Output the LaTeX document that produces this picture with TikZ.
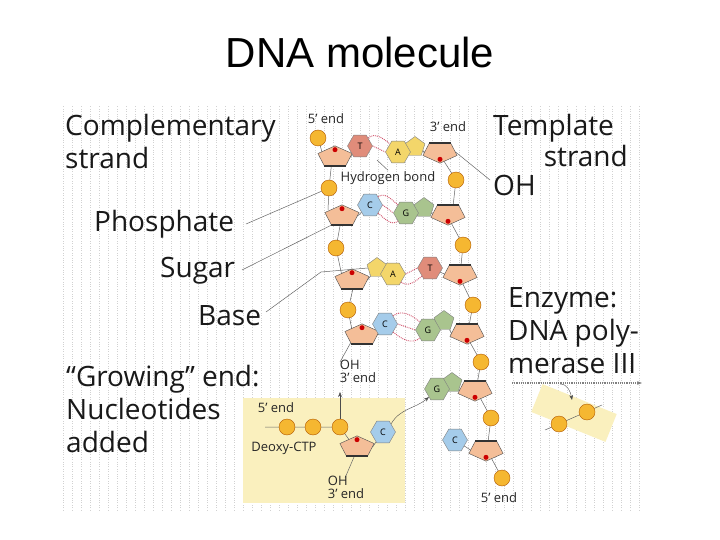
\documentclass[tikz,border=0pt]{standalone}
\usepackage{fontspec}
\setmainfont{Open Sans}
\newfontfamily\titlefont{Liberation Sans}
\usetikzlibrary{shapes.geometric,arrows.meta}
\definecolor{sug}{HTML}{F4BE98}
\definecolor{pho}{HTML}{F5B731}
\definecolor{bT}{HTML}{E08C7A}
\definecolor{bA}{HTML}{F3D66A}
\definecolor{bC}{HTML}{A5CCEA}
\definecolor{bG}{HTML}{A9C48E}
\definecolor{boxy}{HTML}{FAF0BE}
\definecolor{hb}{HTML}{D0506A}
\tikzset{
 phos/.style={circle,draw=orange!70!black,fill=pho,minimum size=16pt,inner sep=0pt,line width=0.4pt},
 sugU/.style={regular polygon,regular polygon sides=5,draw=black!70,fill=sug,minimum size=36pt,inner sep=0pt,transform shape,yscale=0.62},
 sugD/.style={sugU,shape border rotate=180},
 hexb/.style={regular polygon,regular polygon sides=6,draw=black!50,minimum size=25pt,inner sep=0pt,font=\fontsize{9}{9}\selectfont},
 penta/.style={regular polygon,regular polygon sides=5,draw=black!50,minimum size=21pt,inner sep=0pt},
 bb/.style={draw=black!60,line width=0.5pt},
 hbond/.style={draw=hb,densely dotted,line width=0.9pt},
 big/.style={font=\fontsize{28}{28}\selectfont,anchor=base west,inner sep=0pt,text=black!90},
 small/.style={font=\fontsize{13}{13}\selectfont,inner sep=1pt,text=black!85},
 lead/.style={draw=black!60,line width=0.5pt},
}
\newcommand{\thick}[1]{\draw[line width=1.6pt,black!80] (#1.corner 3) -- (#1.corner 4);}
\begin{document}
\begin{tikzpicture}[x=1pt,y=-1pt]
\useasboundingbox (0,0) rectangle (720,540);
\fill[white] (0,0) rectangle (720,540);
\node[font=\titlefont\fontsize{42}{42}\selectfont] (title) at (360,52) {DNA molecule};
% grid
\draw[black!18,dotted,step=9] (60,105) grid (645,510);
% yellow boxes
\fill[boxy] (243,398) rectangle (405,503);
\fill[boxy,rotate around={-22:(574,413)}] (534,398) rectangle (614,428);
% backbone lines
\draw[bb] (318,138) -- (322,152) (329,188) -- (333,150) (329,188) -- (328,210) (336,248) -- (342,215) (336,248)--(342,276) (348,310)--(355,280) (348,310)--(352,330) (340,362)--(355,335);
\draw[bb] (440,155) -- (456,180) -- (452,215) (448,217)--(463,245)--(460,276)(460,278)--(473,305)--(467,336) (467,337)--(481,362)--(476,390)(476,390)--(491,418)--(487,450)(487,450)--(502,478);
% nucleotide in box
\draw[bb] (265,427) -- (340,427) -- (350,441) (357,450) -- (345,478);
% left sugars
\node[sugU] (s1) at (335,157) {}; \thick{s1}
\node[sugU] (s2) at (342,216) {}; \thick{s2}
\node[sugU] (s3) at (352,280) {}; \thick{s3}
\node[sugU] (s4) at (362,335) {}; \thick{s4}
\node[sugU] (s5) at (357,447) {}; \thick{s5}
% right sugars
\node[sugD] (r1) at (440,152) {}; \thick{r1}
\node[sugD] (r2) at (448,214) {}; \thick{r2}
\node[sugD] (r3) at (460,274) {}; \thick{r3}
\node[sugD] (r4) at (467,333) {}; \thick{r4}
\node[sugD] (r5) at (475,390) {}; \thick{r5}
\node[sugD] (r6) at (486,450) {}; \thick{r6}
\foreach \s in {s1,s2,s3,s4,s5}{\fill[red!80!black] ([yshift=-4]\s.corner 1) circle (2.5pt);}
\foreach \s in {r1,r2,r3,r4,r5,r6}{\fill[red!80!black] ([yshift=4]\s.corner 1) circle (2.5pt);}
% bases
\node[hexb,fill=bT] (t1) at (360,146) {T};
\node[penta,fill=bA] (pa1) at (415,147) {};
\node[hexb,fill=bA] (a1) at (398,152) {A};
\node[hexb,fill=bC] (c2) at (370,205) {C};
\node[penta,fill=bG] (pg2) at (424,208) {};
\node[hexb,fill=bG] (g2) at (406,213) {G};
\node[penta,fill=bA] (pa3) at (377,268) {};
\node[hexb,fill=bA] (a3) at (393,274) {A};
\node[hexb,fill=bT] (t3) at (430,268) {T};
\node[hexb,fill=bC] (c4) at (385,324) {C};
\node[penta,fill=bG] (pg4) at (444,321) {};
\node[hexb,fill=bG] (g4) at (428,330) {G};
\node[penta,fill=bG] (pg5) at (452,383) {};
\node[hexb,fill=bG] (g5) at (437,389) {G};
\node[hexb,fill=bC] (c6) at (455,440) {C};
\node[hexb,fill=bC] (c5) at (383,432) {C};
\draw[bb] (s1.east) -- (t1) (r1.west) -- (pa1);
\draw[bb] (s2.east) -- (c2) (r2.west) -- (pg2);
\draw[bb] (s3.east) -- (pa3) (r3.west) -- (t3);
\draw[bb] (s4.east) -- (c4) (r4.west) -- (pg4);
\draw[bb] (s5.east) -- (c5) (r5.west) -- (pg5);
\draw[bb] (r6.west) -- (c6);
% hydrogen bonds
\draw[hbond] (t1.north east) to[out=40,in=140] (a1.north west);
\draw[hbond] (t1.east) -- (a1.west);
\draw[hbond] (c2.north east) to[out=40,in=140] (g2.north west);
\draw[hbond] (c2.east) -- (g2.west);
\draw[hbond] (c2.south east) to[out=-40,in=-140] (g2.south west);
\draw[hbond] (a3.east) -- (t3.west);
\draw[hbond] (a3.south east) to[out=-40,in=-140] (t3.south west);
\draw[hbond] (c4.north east) to[out=40,in=140] (g4.north west);
\draw[hbond] (c4.east) -- (g4.west);
\draw[hbond] (c4.south east) to[out=-40,in=-140] (g4.south west);
% phosphates
\foreach \n/\p in {p1/{318,138},p2/{329,188},p3/{336,248},p4/{348,310},q1/{456,180},q2/{463,245},q3/{473,305},q4/{481,362},q5/{491,418},q6/{502,478},n1/{287,427},n2/{313,427},n3/{340,427}}{\node[phos] (\n) at (\p) {};}
\draw[bb] (545,430) -- (602,405);
\node[phos] (e1) at (559,424) {};
\node[phos] (e2) at (587,412) {};
% arrows
\draw[-{Stealth[length=5pt]},black!70] (n3) -- (340,392);
\draw[-{Stealth[length=5pt]},black!70] (c5.north east) to[out=60,in=-140] (g5.south west);
\draw[-{Stealth[length=5pt]},black!70] (560,384) to[out=0,in=100] (572,400);
\draw[black!50,densely dotted,line width=1.2pt,-{Stealth[length=5pt]}] (512,383) -- (642,383);
% small labels
\node[small] (l5a) at (326,119) {5' end};
\node[small] (l3a) at (448,127) {3' end};
\node[small] (hbl) at (388,178) {Hydrogen bond};
\draw[lead] (hbl.north) -- (377,160);
\node[small,align=left] (oh1) at (358,371) {OH\\3' end};
\node[small] (l5b) at (276,408) {5' end};
\node[small] (dctp) at (284,448) {Deoxy-CTP};
\node[small,align=left] (oh2) at (346,487) {OH\\3' end};
\node[small] (l5c) at (499,498) {5' end};
% big labels
\node[big] (comp) at (65,136) {Complementary};
\node[big] (str1) at (65,169) {strand};
\node[big] (phl) at (94,231) {Phosphate};
\node[big] (sgl) at (160,277) {Sugar};
\node[big] (bsl) at (198,325) {Base};
\node[big] (gro) at (66,386) {“Growing” end:};
\node[big] (nuc) at (66,419) {Nucleotides};
\node[big] (add) at (66,452) {added};
\node[big] (tmp) at (493,136) {Template};
\node[big,anchor=base east] (str2) at (628,167) {strand};
\node[big] (ohr) at (493,196) {OH};
\node[big] (enz) at (508,307) {Enzyme:};
\node[big] (dna) at (508,340) {DNA poly-};
\node[big] (mer) at (508,373) {merase III};
% leaders
\draw[lead] (246,224) -- (p2);
\draw[lead] (242,270) -- (s2.corner 3);
\draw[lead] (266,312) -- (321,272) -- (pa3.west);
\draw[lead] (490,180) -- (r1.east);
\end{tikzpicture}
\end{document}
